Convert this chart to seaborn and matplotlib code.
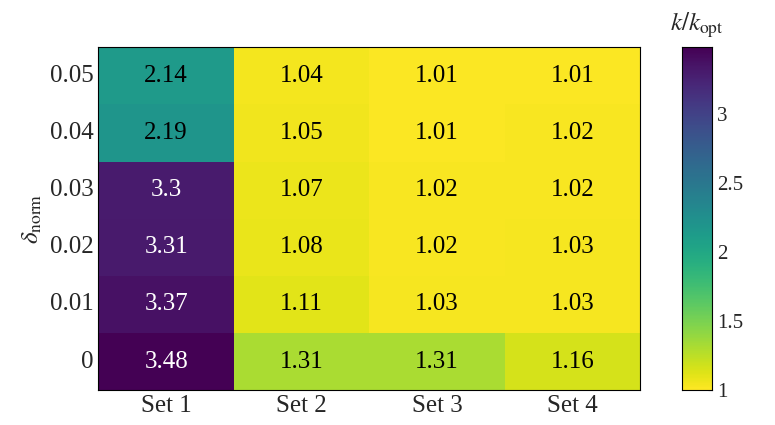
import numpy as np
import pandas as pd
import matplotlib
matplotlib.use("Agg")
import matplotlib.pyplot as plt
import seaborn as sns

sets = ["Set 1", "Set 2", "Set 3", "Set 4"]
deltas = ["0.05", "0.04", "0.03", "0.02", "0.01", "0"]
set1 = [2.14, 2.19, 3.3, 3.31, 3.37, 3.48]
set2 = [1.04, 1.05, 1.07, 1.08, 1.11, 1.31]
set3 = [1.01, 1.01, 1.02, 1.02, 1.03, 1.31]
set4 = [1.01, 1.02, 1.02, 1.03, 1.03, 1.16]

data = pd.DataFrame({"Set 1": set1, "Set 2": set2, "Set 3": set3, "Set 4": set4},
                    index=deltas)

sns.set_style("white")
plt.rcParams["font.family"] = ["Liberation Serif", "DejaVu Serif"]
plt.rcParams["mathtext.fontset"] = "stix"

fig = plt.figure(figsize=(7.75, 4.25), dpi=100)
ax = fig.add_axes([0.127, 0.082, 0.699, 0.807])
cax = fig.add_axes([0.88, 0.082, 0.039, 0.807])

sns.heatmap(data, ax=ax, cbar_ax=cax, cmap="viridis_r", vmin=1, vmax=3.48,
            annot=True, fmt="g", annot_kws={"fontsize": 18})

for txt in ax.texts:
    txt.set_color("white" if float(txt.get_text()) > 3 else "black")

ax.tick_params(axis="both", labelsize=18, length=3, direction="in",
               left=True, bottom=True)
ax.set_yticklabels(deltas, rotation=0)
ax.set_xticklabels(sets, rotation=0)
ax.set_ylabel(r"$\delta_{\mathrm{norm}}$", fontsize=18)
ax.set_xlabel("")
for s in ax.spines.values():
    s.set_visible(True)
    s.set_color("black")

cax.set_yticks([1, 1.5, 2, 2.5, 3])
cax.set_yticklabels(["1", "1.5", "2", "2.5", "3"])
cax.tick_params(labelsize=15, right=True, length=3, direction="in")
cax.set_title(r"$k/k_{\mathrm{opt}}$", fontsize=18, pad=12)
for s in cax.spines.values():
    s.set_visible(True)
    s.set_color("black")

fig.savefig("out.png", dpi=100)
